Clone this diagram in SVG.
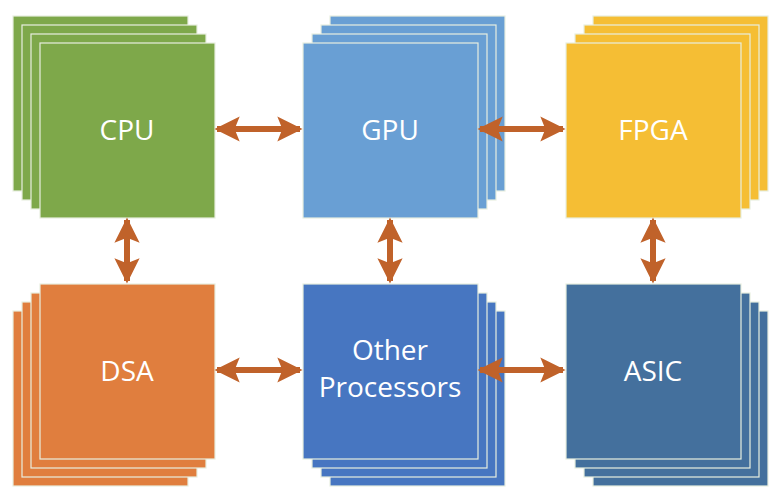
<svg xmlns="http://www.w3.org/2000/svg" width="780" height="498" viewBox="0 0 780 498">
<defs>
<marker id="ah" viewBox="0 0 10 10" refX="9" refY="5" markerWidth="4.2" markerHeight="4.2" orient="auto-start-reverse"><path d="M0,0 L10,5 L0,10 L2,5 Z" fill="#C0622A"/></marker>
</defs>
<style>
rect{stroke:#e8eedf;stroke-width:1.2}
.t{font-family:"Open Sans",sans-serif;font-size:28px;fill:#fff;text-anchor:middle}
.c line{stroke:#C0622A;stroke-width:6;marker-start:url(#ah);marker-end:url(#ah)}
</style>
<rect width="780" height="498" fill="#fff" style="stroke:none"/>
<g id="cpu" fill="#7EA84A">
<rect x="13" y="16" width="175" height="175"/><rect x="22" y="25" width="175" height="175"/><rect x="31" y="34" width="175" height="175"/><rect x="40" y="43" width="175" height="175"/>
<text class="t" x="127" y="140">CPU</text></g>
<g id="gpu" fill="#699FD4">
<rect x="330" y="16" width="175" height="175"/><rect x="321" y="25" width="175" height="175"/><rect x="312" y="34" width="175" height="175"/><rect x="303" y="43" width="175" height="175"/>
<text class="t" x="390" y="140">GPU</text></g>
<g id="fpga" fill="#F5BE34">
<rect x="593" y="16" width="175" height="175"/><rect x="584" y="25" width="175" height="175"/><rect x="575" y="34" width="175" height="175"/><rect x="566" y="43" width="175" height="175"/>
<text class="t" x="653" y="140">FPGA</text></g>
<g id="dsa" fill="#E07E3E">
<rect x="13" y="311" width="175" height="175"/><rect x="22" y="302" width="175" height="175"/><rect x="31" y="293" width="175" height="175"/><rect x="40" y="284" width="175" height="175"/>
<text class="t" x="127" y="381">DSA</text></g>
<g id="other" fill="#4776C1">
<rect x="330" y="311" width="175" height="175"/><rect x="321" y="302" width="175" height="175"/><rect x="312" y="293" width="175" height="175"/><rect x="303" y="284" width="175" height="175"/>
<text class="t" x="390" y="360">Other</text><text class="t" x="390" y="397">Processors</text></g>
<g id="asic" fill="#44709D">
<rect x="593" y="311" width="175" height="175"/><rect x="584" y="302" width="175" height="175"/><rect x="575" y="293" width="175" height="175"/><rect x="566" y="284" width="175" height="175"/>
<text class="t" x="653" y="381">ASIC</text></g>
<g id="connectors" class="c">
<line x1="217" y1="129" x2="300" y2="129"/>
<line x1="480" y1="129" x2="563" y2="129"/>
<line x1="217" y1="370" x2="300" y2="370"/>
<line x1="480" y1="370" x2="563" y2="370"/>
<line x1="127" y1="220" x2="127" y2="281"/>
<line x1="390" y1="220" x2="390" y2="281"/>
<line x1="653" y1="220" x2="653" y2="281"/>
</g>
</svg>
